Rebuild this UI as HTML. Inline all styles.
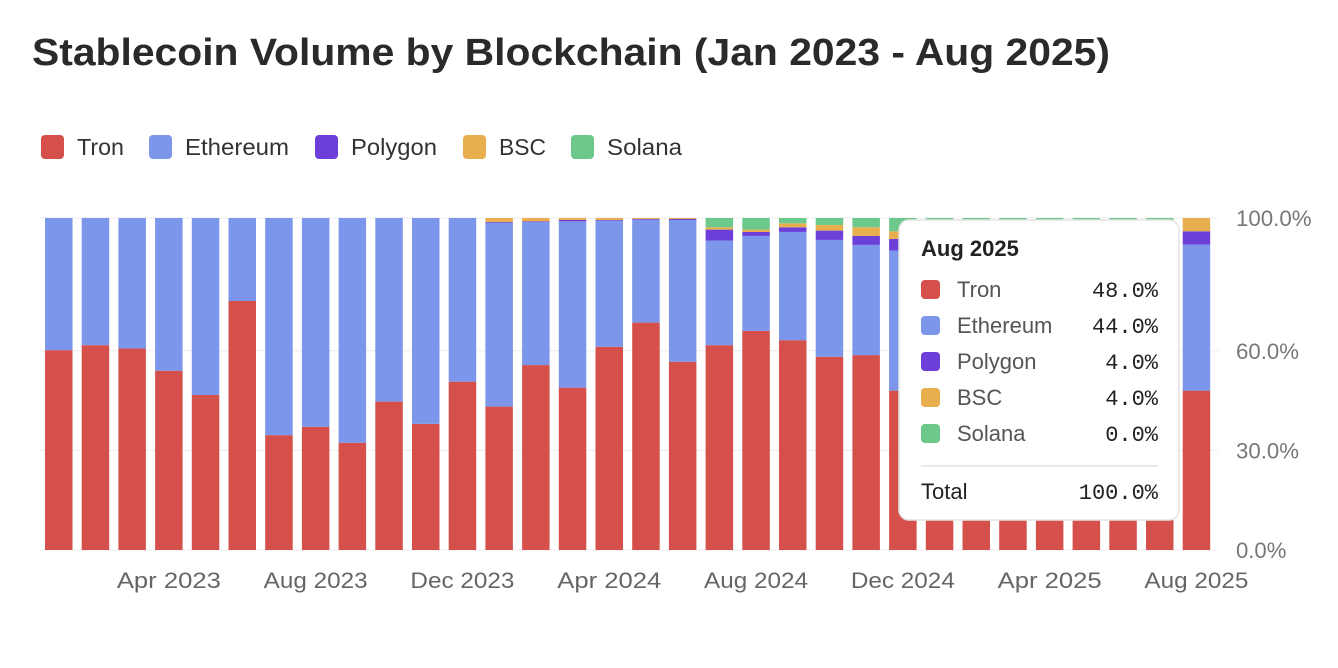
<!DOCTYPE html>
<html><head><meta charset="utf-8">
<style>
body{margin:0;background:#fff;width:1338px;height:663px;overflow:hidden;font-family:"Liberation Sans",sans-serif;}
</style></head>
<body>
<svg id="chart" width="1338" height="663" xmlns="http://www.w3.org/2000/svg">
<text x="32" y="65" font-family="Liberation Sans, sans-serif" font-size="38" font-weight="bold" fill="#2a2a2a" textLength="1078" lengthAdjust="spacingAndGlyphs">Stablecoin Volume by Blockchain (Jan 2023 - Aug 2025)</text>
<g id="legend"></g>
<g id="grid"></g>
<g id="bars"></g>
<g id="xaxis"></g>
<g id="yaxis"></g>
<g id="tooltip"></g>
</svg>
<script>
const months = ["Jan 2023","Feb 2023","Mar 2023","Apr 2023","May 2023","Jun 2023","Jul 2023","Aug 2023","Sep 2023","Oct 2023","Nov 2023","Dec 2023","Jan 2024","Feb 2024","Mar 2024","Apr 2024","May 2024","Jun 2024","Jul 2024","Aug 2024","Sep 2024","Oct 2024","Nov 2024","Dec 2024","Jan 2025","Feb 2025","Mar 2025","Apr 2025","May 2025","Jun 2025","Jul 2025","Aug 2025"];
const tron =    [60.2,61.7,60.7,54.0,46.7,75.0,34.6,37.1,32.3,44.7,38.0,50.7,43.2,55.7,48.9,61.2,68.5,56.7,61.7,66.0,63.2,58.2,58.7,48.0,50,50,50,50,50,50,50,48];
const polygon = [0,0,0,0,0,0,0,0,0,0,0,0,0.2,0.2,0.4,0.2,0.2,0.3,3.3,1.2,1.4,2.8,2.7,3.5,3,3,3,3,3,3,3,4];
const bsc =     [0,0,0,0,0,0,0,0,0,0,0,0,1.2,1.0,0.6,0.6,0.3,0.3,0.7,0.7,1.2,1.7,2.6,2.3,4,4,4,4,4,4,4,4];
const solana =  [0,0,0,0,0,0,0,0,0,0,0,0,0,0,0,0,0,0,2.8,3.5,1.6,2.1,2.8,4.0,3,3,3,3,3,3,3,0];
const ethereum = tron.map((t,i)=>100-t-polygon[i]-bsc[i]-solana[i]);
const yTicks = [0,30,60,100];
const yTickLabels = ["0.0%","30.0%","60.0%","100.0%"];
const xTickIdx = [3,7,11,15,19,23,27,31];
const seriesNames = ["Tron","Ethereum","Polygon","BSC","Solana"];
const seriesColors = ["#d6504b","#7b96ea","#6b3fd8","#e9ae4d","#6dc98b"];
const tooltipIdx = 31;

const NS="http://www.w3.org/2000/svg";
function mk(tag,attrs,parent,text){const e=document.createElementNS(NS,tag);for(const k in attrs)e.setAttribute(k,attrs[k]);if(text!==undefined)e.textContent=text;parent.appendChild(e);return e;}
const x0=45, pitch=36.7, bw=27.5, yTop=218, yBot=550;
const xs=i=>x0+i*pitch;
const ys=v=>yBot-(v/100)*(yBot-yTop);

// legend
const lg=document.getElementById('legend');
const lx=[41,149,315,463,571];
const lw=[47,104,86,47,75];
seriesNames.forEach((n,i)=>{
  const r=mk('rect',{x:lx[i],y:135,width:23,height:24,rx:4,fill:seriesColors[i]},lg);
  
  
  const t=mk('text',{x:lx[i]+36,y:155,'font-size':23,fill:'#333',textLength:lw[i],lengthAdjust:'spacingAndGlyphs'},lg,n);
  
  
});

// grid
const gg=document.getElementById('grid');
yTicks.forEach(v=>{
  const l=mk('line',{x1:40,x2:1218,y1:ys(v),y2:ys(v),stroke:'#ececec','stroke-width':1},gg);
  
  
});

// bars
const bg=document.getElementById('bars');
const stacks=[tron,ethereum,polygon,bsc,solana];
months.forEach((m,i)=>{
  let acc=0;
  stacks.forEach((s,k)=>{
    const v=s[i]; if(v<=0){return;}
    const r=mk('rect',{x:xs(i),y:ys(acc+v),width:bw,height:ys(acc)-ys(acc+v),fill:seriesColors[k]},bg);
    
    
    acc+=v;
  });
});

// x axis
const xg=document.getElementById('xaxis');
xTickIdx.forEach(i=>{
  const t=mk('text',{x:xs(i)+bw/2,y:588,'font-size':22,fill:'#666','text-anchor':'middle',textLength:104,lengthAdjust:'spacingAndGlyphs'},xg,months[i]);
  
  
});
// y axis
const yg=document.getElementById('yaxis');
yTicks.forEach((v,i)=>{
  const t=mk('text',{x:1236,y:ys(v)+8,'font-size':22,fill:'#777',textLength:yTickLabels[i].length*12.6,lengthAdjust:'spacingAndGlyphs'},yg,yTickLabels[i]);
  
  
});

// tooltip
const tg=document.getElementById('tooltip');
const box=mk('rect',{x:899,y:220,width:280,height:300,rx:10,fill:'#fff',stroke:'#e4e4e4','stroke-width':1.5},tg);


const tt=mk('text',{x:921,y:256,'font-size':22,fill:'#222','font-weight':'bold'},tg,months[tooltipIdx]);


const vals=[tron,ethereum,polygon,bsc,solana];
seriesNames.forEach((n,k)=>{
  const y=289+k*36;
  const sw=mk('rect',{x:921,y:y-9,width:19,height:19,rx:4,fill:seriesColors[k]},tg);
  
  
  const lb=mk('text',{x:957,y:y+8,'font-size':22,fill:'#555'},tg,n);
  
  
  const vl=mk('text',{x:1158,y:y+8,'font-size':22,fill:'#222','text-anchor':'end','font-family':'Liberation Mono, monospace'},tg,vals[k][tooltipIdx].toFixed(1)+'%');
  
  
});
const sep=mk('line',{x1:921,x2:1158,y1:466,y2:466,stroke:'#e2e2e2','stroke-width':1.5},tg);


const tl=mk('text',{x:921,y:499,'font-size':22,fill:'#222'},tg,'Total');


const total=vals.reduce((a,s)=>a+s[tooltipIdx],0);
const tv=mk('text',{x:1158,y:499,'font-size':22,fill:'#222','text-anchor':'end','font-family':'Liberation Mono, monospace'},tg,total.toFixed(1)+'%');


</script>
</body></html>
